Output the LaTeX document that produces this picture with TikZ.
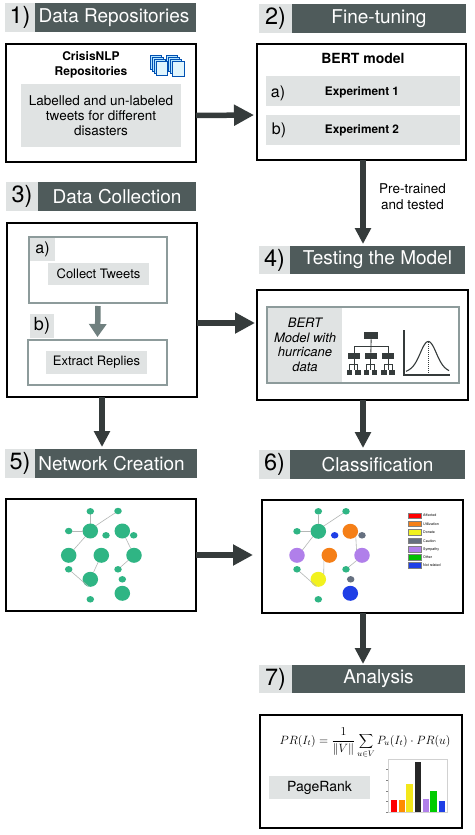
\documentclass[tikz,border=0pt]{standalone}
\usepackage{fontspec}
\setmainfont{TeX Gyre Heros}
\usetikzlibrary{arrows.meta,calc}
\definecolor{hdark}{HTML}{4F5B5B}
\definecolor{hlight}{HTML}{DFE2E2}
\definecolor{inner}{HTML}{E0E3E3}
\definecolor{arrowc}{HTML}{353B3B}
\definecolor{grayarrow}{HTML}{70807F}
\definecolor{frame}{HTML}{8D9B9B}
\definecolor{teal}{HTML}{2FB584}
\definecolor{nodeorange}{HTML}{F57F17}
\definecolor{nodepurple}{HTML}{B07FEA}
\definecolor{nodeyellow}{HTML}{F2F21E}
\definecolor{nodeblue}{HTML}{1F3FE6}
\definecolor{nodegray}{HTML}{667080}
\definecolor{edgegray}{HTML}{B4B7B6}
\newcommand\fs[1]{\fontsize{#1}{#1}\selectfont}
\newcommand\rbox[7][]{\node[inner sep=0pt,outer sep=0pt,minimum width={#5pt-#3pt},minimum height={#6pt-#4pt},align=center,#1] (#2) at ({(#3+#5)/2},{(#4+#6)/2}) {#7};}
\tikzset{
  hnum/.style={fill=hlight,text=black,font=\fs{23.5}},
  htitle/.style={fill=hdark,text=white,font=\fs{19}},
  mainbox/.style={draw=black,line width=1.5pt,fill=white},
  subbox/.style={draw=frame,line width=1.3pt,fill=white},
  graybox/.style={fill=inner},
  harrow/.style={draw=arrowc,line width=5.5pt,-{Triangle[length=20pt,width=20pt,color=arrowc]}},
  varrow/.style={draw=arrowc,line width=5.5pt,-{Triangle[length=16pt,width=15.5pt,color=arrowc]}},
  garrow/.style={draw=grayarrow,line width=5.5pt,-{Triangle[length=13pt,width=17pt,color=grayarrow]}},
  big/.style={ellipse,inner sep=0pt,outer sep=0pt,minimum width=15.5pt,minimum height=15pt},
  small/.style={ellipse,inner sep=0pt,outer sep=0pt,minimum width=7.5pt,minimum height=6.5pt},
  netedge/.style={draw=edgegray,line width=0.6pt},
  sheet/.style={draw=blue!55!cyan!70!black,line width=0.5pt,fill=blue!35!cyan!30},
  frontsheet/.style={draw=blue!55!cyan!70!black,line width=0.5pt,fill=cyan!12},
  orgb/.style={fill=arrowc,inner sep=0pt,outer sep=0pt},
  swatch/.style={draw=gray,line width=0.5pt},
  legendtext/.style={anchor=west,inner sep=0pt,font=\fs{3.6}}
}
\usetikzlibrary{shapes.geometric}
\begin{document}
\begin{tikzpicture}[x=1pt,y=-1pt]
\useasboundingbox (0,0) rectangle (474,835);
\fill[white] (0,0) rectangle (474,835);
% headers
\rbox[hnum]{n1}{5}{3}{35}{32}{1)}
\rbox[htitle]{h1}{35}{3}{196}{32}{Data Repositories\hspace{3pt}}
\rbox[hnum]{n2}{259}{4}{292}{33}{2)}
\rbox[htitle]{h2}{292}{4}{466}{33}{Fine-tuning}
\rbox[hnum]{n3}{6}{182}{38}{211}{3)}
\rbox[htitle]{h3}{38}{182}{196}{211}{Data Collection}
\rbox[hnum]{n4}{259}{246}{290}{274}{4)}
\rbox[htitle]{h4}{290}{246}{465}{274}{Testing the Model}
\rbox[hnum]{n5}{5}{449}{35}{478}{5)}
\rbox[htitle]{h5}{35}{449}{197}{478}{Network Creation\hspace{9pt}}
\rbox[hnum]{n6}{259}{450}{290}{479}{6)}
\rbox[htitle]{h6}{290}{450}{465}{479}{Classification}
\rbox[hnum]{n7}{259}{665}{292}{693}{7)}
\rbox[htitle]{h7}{292}{665}{465}{693}{Analysis}
% main boxes
\rbox[mainbox]{b1}{6}{44}{196}{162}{}
\rbox[mainbox]{b2}{257}{44}{466}{160}{}
\rbox[mainbox]{b3}{7}{223}{197}{397}{}
\rbox[mainbox]{b4}{257}{290}{468}{400}{}
\rbox[mainbox]{b5}{6}{499}{196}{611}{}
\rbox[mainbox]{b6}{262}{500}{463}{613}{}
\rbox[mainbox]{b7}{260}{715}{462}{828}{}
% box 1
\node[font=\fs{12}\bfseries,align=center,inner sep=0pt] (crisis) at (91,64.5) {CrisisNLP\\[3pt]Repositories};
\rbox[graybox,font=\fs{13.5}]{labelled}{21}{84}{181}{147}{Labelled and un-labeled\\[1.5pt]tweets for different\\[1.5pt]disasters}
\foreach \dx/\dy in {0/0,2/2,4/4}{
  \draw[sheet] ({150+\dx},{55+\dy}) rectangle ++(11,14);
  \draw[sheet] ({166+\dx},{55+\dy}) rectangle ++(11,14);
}
\draw[frontsheet] (156,61) rectangle ++(11.5,14.5);
\draw[frontsheet] (172.5,61.5) rectangle ++(11.5,14.5);
% box 2
\node[font=\fs{14}\bfseries,inner sep=0pt] (bert) at (363,58) {BERT model};
\rbox[graybox]{e1}{266}{76}{460}{106}{}
\rbox[graybox]{e2}{266}{115}{460}{145}{}
\node[font=\fs{11.8}\bfseries,inner sep=0pt] (e1t) at (362,92) {Experiment 1};
\node[font=\fs{11.8}\bfseries,inner sep=0pt] (e2t) at (362,130.5) {Experiment 2};
\node[font=\fs{16},inner sep=0pt] (e1a) at (278,93.5) {a)};
\node[font=\fs{16},inner sep=0pt] (e2b) at (279,130.5) {b)};
\node[font=\fs{13.5},align=center,inner sep=0pt] (pre) at (412.5,197) {Pre-trained\\[2.5pt]and tested};
% box 3
\rbox[subbox]{ca}{29}{237}{167}{303}{}
\rbox[graybox,font=\fs{16}]{la}{30}{238}{55}{261}{a)}
\rbox[graybox,font=\fs{13}]{collect}{48}{263}{149}{285}{Collect Tweets}
\rbox[subbox]{cb}{28}{340}{167}{385}{}
\rbox[graybox,font=\fs{18}]{lb}{30}{314}{54}{338}{b)}
\rbox[graybox,font=\fs{13}]{extract}{46}{351}{147}{374}{Extract Replies}
\draw[garrow] ([yshift=-3pt]ca.south) -- ([yshift=3pt]cb.north);
% box 4
\rbox[subbox]{model}{267}{307}{459}{383}{}
\rbox[graybox,font=\fs{13}\itshape]{modelt}{268}{308}{342}{382}{BERT\\[1.5pt]Model with\\[1.5pt]hurricane\\[1.5pt]data}
\rbox[orgb]{top}{364}{332.3}{378.3}{339.3}{}
\rbox[orgb]{m1}{348.3}{352.7}{360}{359}{}
\rbox[orgb]{m2}{365}{352.7}{376.7}{359}{}
\rbox[orgb]{m3}{382}{352.7}{394}{359}{}
\rbox[orgb]{l1}{346.7}{370}{352.3}{374.5}{}
\rbox[orgb]{l2}{354.7}{370}{360.7}{374.5}{}
\rbox[orgb]{l3}{364}{370}{369.3}{374.5}{}
\rbox[orgb]{l4}{371.7}{370}{377.3}{374.5}{}
\rbox[orgb]{l5}{381.3}{370}{386.7}{374.5}{}
\rbox[orgb]{l6}{389.3}{370}{395}{374.5}{}
\begin{scope}[draw=arrowc,line width=0.9pt]
\draw (top) -- (m2);
\draw (m1.north) -- ++(0,-6.5) -| (m3.north);
\draw (l1.north) -- ++(0,-5.5) -| (l2.north);
\draw (l3.north) -- ++(0,-5.5) -| (l4.north);
\draw (l5.north) -- ++(0,-5.5) -| (l6.north);
\draw (m1) -- (m1 |- l1.north);
\draw (m2) -- (m2 |- l1.north);
\draw (m3) -- (m3 |- l1.north);
\end{scope}
\coordinate (axt) at (404,330);
\coordinate (axo) at (404,375);
\coordinate (axe) at (449.5,375);
\draw[arrowc,line width=1.2pt] (axt) -- (axo) -- (axe);
\draw[arrowc,line width=1.1pt] plot[smooth,domain=406:449,samples=45] (\x,{374-32.5/(1+pow((\x-428.3)/9.5,2)*0.6+pow((\x-428.3)/9.5,4)*0.25)});
\draw[arrowc,line width=1pt,densely dotted] (428.3,342) -- (428.3,375);
% network in box 5
\draw[netedge] (90.3,511.3) -- (90.3,531);
\begin{scope}[every node/.style={fill=teal}]
\node[small] (a1) at (90.3,511.3) {};
\node[small] (a2) at (118,511) {};
\node[small] (a3) at (68.7,531) {};
\node[small] (a4) at (106,535.3) {};
\node[small] (a5) at (133.7,535.3) {};
\node[small] (a6) at (68.7,569.3) {};
\node[small] (a7) at (118,569.3) {};
\node[small] (a8) at (122.3,579.3) {};
\node[small] (a9) at (90.3,599.3) {};
\node[big] (A1) at (90.3,531) {};
\node[big] (A2) at (122.3,531) {};
\node[big] (A3) at (68.7,555.3) {};
\node[big] (A4) at (101.3,555.3) {};
\node[big] (A5) at (134,555.3) {};
\node[big] (A6) at (90.3,579.3) {};
\node[big] (A7) at (122.3,593.3) {};
\end{scope}
\draw[netedge] (a2) -- ([shift={(5,-5)}]A1.center);
\draw[netedge] (a3) -- (A1);
\draw[netedge] (A1) -- (A3);
\draw[netedge] (A2) -- (A5);
\draw[netedge] (A5) -- (a7);
\draw[netedge] (A4) -- (A6);
\draw[netedge] (a6) -- ([shift={(-2,7)}]A6.center);
% network in box 6
\node[small,fill=teal] (c1) at (318.3,511.3) {};
\node[small,fill=teal] (c2) at (346,511.3) {};
\node[small,fill=teal] (c3) at (297,531.3) {};
\node[small,fill=nodeblue] (c4) at (334.7,535.3) {};
\node[small,fill=nodegray] (c5) at (362,535.3) {};
\node[small,fill=teal] (c6) at (297,569.3) {};
\node[small,fill=teal] (c7) at (346,569.3) {};
\node[small,fill=nodegray] (c8) at (350.7,579.3) {};
\node[small,fill=teal] (c9) at (318.3,599.3) {};
\node[big,fill=teal] (C1) at (318.3,531.3) {};
\node[big,fill=nodeorange] (C2) at (350.3,531.3) {};
\node[big,fill=nodepurple] (C3) at (297,555.3) {};
\node[big,fill=nodeorange] (C4) at (329.3,555.3) {};
\node[big,fill=nodepurple] (C5) at (362,555.3) {};
\node[big,fill=nodeyellow] (C6) at (318.3,579.3) {};
\node[big,fill=nodeblue] (C7) at (350.3,593.3) {};
\draw[netedge] (c1) -- (C1);
\draw[netedge] (c2) -- (C1.north east);
\draw[netedge] (c3) -- (C1.west);
\draw[netedge] (C1.south west) -- (C3.north east);
\draw[netedge] (C2.south east) -- (C5.north west);
\draw[netedge] (C5.south west) -- (c7);
\draw[netedge] (C4.south west) -- (C6.north east);
\draw[netedge] (c6) -- ([shift={(-2,7)}]C6.center);
% legend
\foreach \y/\c/\t in {515.7/red/Affected,524/nodeorange/Utilization,532.3/nodeyellow/Donate,541/nodegray/Caution,549.3/nodepurple/Sympathy,557.3/green!75!black/Other,565.3/nodeblue/Not related}{
  \path[swatch,fill=\c] (408.3,{\y-2.6}) rectangle (421,{\y+2.6});
  \node[legendtext] at (423,\y) {\t};
}
% box 7
\node[inner sep=0pt,font=\fs{12}] (formula) at (365,743) {$\displaystyle PR(I_t)=\frac{1}{\|V\|}\sum_{u\in V}P_u(I_t)\cdot PR(u)$};
\rbox[graybox,font=\fs{14}]{pagerank}{269}{776}{370}{799}{PageRank}
\draw[black!18,line width=0.4pt] (387.7,758.7) -- (447.3,758.7) -- (447.3,812) -- (387.7,812) -- cycle;
\foreach \t in {769,780,791,801,812}{\draw[black!50,line width=0.3pt] (386,\t) -- (387.7,\t);}
\foreach \a/\b/\t/\c in {390.7/397/799.7/red,398.7/405/799.7/orange!90!yellow,406.3/413/784/nodeyellow!90!orange,414.7/421.3/761.7/black!85,422.7/429.3/799/nodepurple,430.3/437/791/green!80!black,438.7/445.3/801.3/nodeblue}{
  \fill[\c] (\a,\t) rectangle (\b,812);
}
% arrows
\draw[harrow,shorten >=3pt] ([yshift=-12.5pt]b1.east) -- (b2.west |- 0,115);
\draw[varrow,shorten >=2pt] (b2.south -| 363,0) -- (h4.north -| 363,0);
\draw[harrow,shorten >=2pt] (b3.east |- 0,323) -- (b4.west |- 0,323);
\draw[varrow,shorten >=2pt] (b3.south) -- (h5.north -| b3.south);
\draw[varrow,shorten >=2pt] (b4.south -| 363,0) -- (h6.north -| 363,0);
\draw[harrow,shorten >=9pt] (b5.east |- 0,555) -- (b6.west |- 0,555);
\draw[varrow,shorten >=1pt] (b6.south -| 363,0) -- (h7.north -| 363,0);
\end{tikzpicture}
\end{document}
